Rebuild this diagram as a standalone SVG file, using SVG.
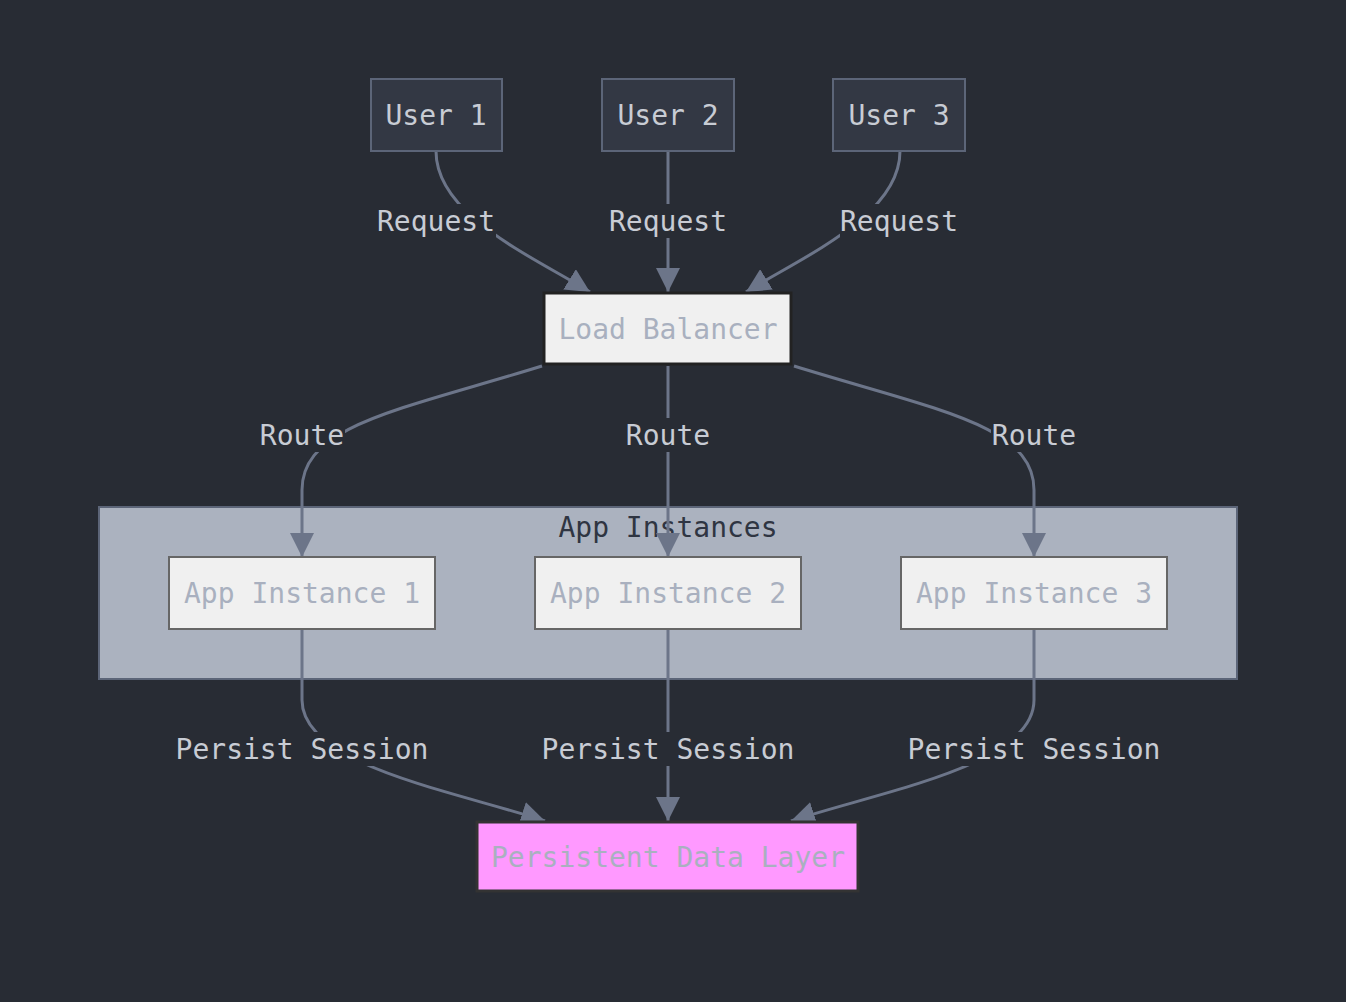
<svg xmlns="http://www.w3.org/2000/svg" width="1346" height="1002" viewBox="0 0 1346 1002">
<style>
text{font-family:"DejaVu Sans Mono","Liberation Mono",monospace;font-size:28px;text-anchor:middle;dominant-baseline:central}
.e{fill:none;stroke:#6c7589;stroke-width:3}
.lbl{fill:#c8ccd4}
.lb{fill:#282c34}
.u rect{fill:#333844;stroke:#5c6578;stroke-width:2}
.u text{fill:#c8ccd4}
.a rect{fill:#f0f0f0;stroke:#666;stroke-width:2}
.a text{fill:#a9b0bf}
</style>
<defs>
<marker id="ar" markerUnits="userSpaceOnUse" viewBox="0 0 24 24" refX="24" refY="12" markerWidth="24" markerHeight="24" orient="auto"><path d="M0,0 L24,12 L0,24 z" fill="#6c7589"/></marker>
</defs>
<rect width="1346" height="1002" fill="#282c34"/>
<g id="cluster"><rect x="99" y="507" width="1138" height="172" fill="#abb2bf" stroke="#5c6578" stroke-width="2"/><text x="668" y="527" fill="#2f3542">App Instances</text></g>
<g id="edges">
<path class="e" marker-end="url(#ar)" d="M436,151 C436,215 530,255 590,292"/>
<path class="e" marker-end="url(#ar)" d="M668,151 L668,292"/>
<path class="e" marker-end="url(#ar)" d="M900,151 C900,215 806,255 746,292"/>
<path class="e" marker-end="url(#ar)" d="M542,366 C400,410 302,425 302,490 L302,557"/>
<path class="e" marker-end="url(#ar)" d="M668,366 L668,557"/>
<path class="e" marker-end="url(#ar)" d="M794,366 C936,410 1034,425 1034,490 L1034,557"/>
<path class="e" marker-end="url(#ar)" d="M302,629 L302,700 C302,765 450,790 545,821"/>
<path class="e" marker-end="url(#ar)" d="M668,629 L668,821"/>
<path class="e" marker-end="url(#ar)" d="M1034,629 L1034,700 C1034,765 886,790 791,821"/>
<rect class="lb" x="376" y="204" width="120" height="34"/><text class="lbl" x="436" y="221">Request</text>
<rect class="lb" x="608" y="204" width="120" height="34"/><text class="lbl" x="668" y="221">Request</text>
<rect class="lb" x="840" y="204" width="120" height="34"/><text class="lbl" x="899" y="221">Request</text>
<rect class="lb" x="259" y="418" width="86" height="34"/><text class="lbl" x="302" y="435">Route</text>
<rect class="lb" x="625" y="418" width="86" height="34"/><text class="lbl" x="668" y="435">Route</text>
<rect class="lb" x="991" y="418" width="86" height="34"/><text class="lbl" x="1034" y="435">Route</text>
<rect class="lb" x="176" y="732" width="252" height="34"/><text class="lbl" x="302" y="749">Persist Session</text>
<rect class="lb" x="542" y="732" width="252" height="34"/><text class="lbl" x="668" y="749">Persist Session</text>
<rect class="lb" x="908" y="732" width="252" height="34"/><text class="lbl" x="1034" y="749">Persist Session</text>
</g>
<g id="user1" class="u"><rect x="371" y="79" width="131" height="72"/><text x="436" y="115">User 1</text></g>
<g id="user2" class="u"><rect x="602" y="79" width="132" height="72"/><text x="668" y="115">User 2</text></g>
<g id="user3" class="u"><rect x="833" y="79" width="132" height="72"/><text x="899" y="115">User 3</text></g>
<g id="lb" class="a"><rect x="544" y="293" width="247" height="71" style="stroke:#222;stroke-width:3"/><text x="668" y="329">Load Balancer</text></g>
<g id="app1" class="a"><rect x="169" y="557" width="266" height="72"/><text x="302" y="593">App Instance 1</text></g>
<g id="app2" class="a"><rect x="535" y="557" width="266" height="72"/><text x="668" y="593">App Instance 2</text></g>
<g id="app3" class="a"><rect x="901" y="557" width="266" height="72"/><text x="1034" y="593">App Instance 3</text></g>
<g id="pdl" class="a"><rect x="477" y="822" width="381" height="69" style="fill:#ff99ff;stroke:#333;stroke-width:3"/><text x="668" y="857">Persistent Data Layer</text></g>
</svg>
